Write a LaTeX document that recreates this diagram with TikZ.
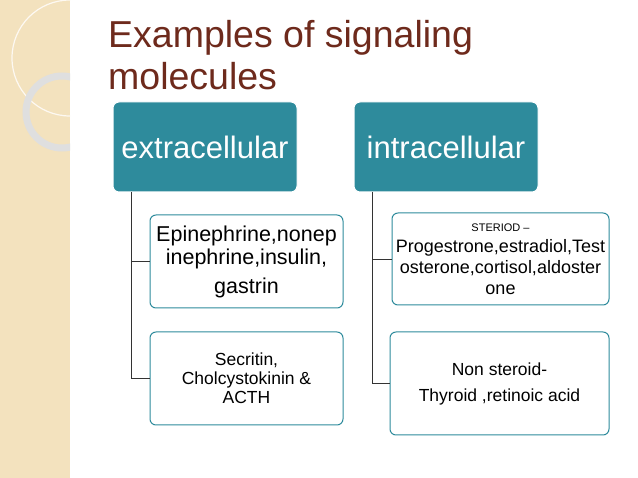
\documentclass[tikz,border=0pt]{standalone}
\usepackage{fontspec}
\setmainfont{Liberation Sans}
\begin{document}
\begin{tikzpicture}[x=1pt,y=-1pt,
  head/.style={draw=white,line width=1pt,fill=teal0,rounded corners=6pt,text=white,font=\fontsize{31}{34}\selectfont,inner sep=0},
  child/.style={draw=teal0,line width=1pt,fill=white,rounded corners=6pt,align=center,inner sep=2pt,font=\fontsize{18}{21}\selectfont},
  conn/.style={draw=black!80,line width=0.8pt}]
\definecolor{teal0}{HTML}{2E8B9C}
\definecolor{strip}{HTML}{F3E2BE}
\definecolor{titlec}{HTML}{6E2A1C}
\useasboundingbox (0,0) rectangle (638,478);
\fill[white] (0,0) rectangle (638,478);
\fill[strip] (0,0) rectangle (70,478);
\begin{scope}
\clip (0,0) rectangle (70,478);
\draw[white!80!strip,line width=1.2pt] (70,58) circle (58);
\draw[gray!25,line width=7pt] (62,112) circle (36);
\end{scope}
\node[anchor=north west,align=left,text=titlec,font=\fontsize{37.5}{42}\selectfont,inner sep=0] (title) at (108,20) {Examples of signaling\\molecules};
\node[head,minimum width=184,minimum height=90] (ext) at (205,147) {extracellular};
\node[head,minimum width=184,minimum height=90] (int) at (446,147) {intracellular};
\coordinate (e0) at (131,192); \coordinate (i0) at (372,192);
\node[child,minimum width=193,minimum height=93,font=\fontsize{21.5}{23}\selectfont] (e1) at (246.5,261.5) {Epinephrine,nonep\\inephrine,insulin,\\[6pt]gastrin};
\node[child,minimum width=193,minimum height=93,font=\fontsize{17.5}{19}\selectfont] (e2) at (246.5,378.5) {Secritin,\\Cholcystokinin \&\\ACTH};
\node[child,minimum width=217,minimum height=92] (i1) at (500.5,259) {{\fontsize{11}{13}\selectfont STERIOD –}\\Progestrone,estradiol,Test\\osterone,cortisol,aldoster\\one};
\node[child,minimum width=219,minimum height=103,font=\fontsize{17.5}{20}\selectfont] (i2) at (499.5,383.5) {Non steroid-\\[6pt]Thyroid ,retinoic acid};
\draw[conn] (e0) |- (e1.west);
\draw[conn] (e0) |- (e2.west);
\draw[conn] (i0) |- (i1.west);
\draw[conn] (i0) |- (i2.west);
\end{tikzpicture}
\end{document}
